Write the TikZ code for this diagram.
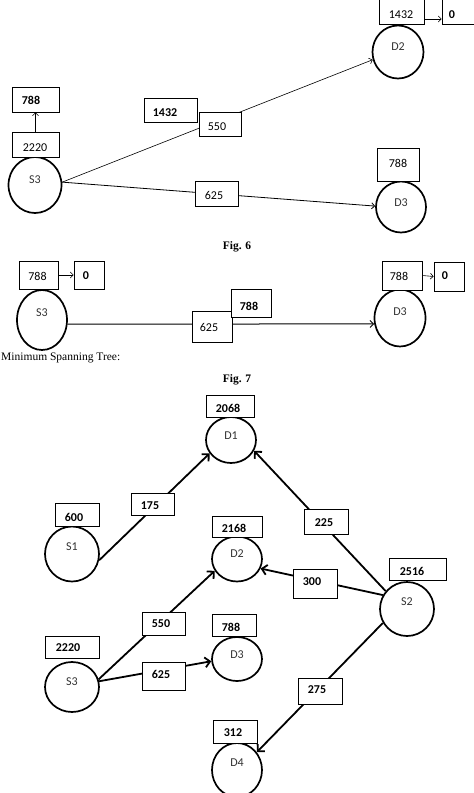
\documentclass[tikz,border=0pt]{standalone}
\usepackage{fontspec}
\setmainfont{Liberation Serif}
\newfontfamily\calib{Carlito}
\usetikzlibrary{shapes.geometric,arrows.meta}
\tikzset{
  box/.style={draw, line width=0.7pt, fill=white, inner sep=0pt},
  tbox/.style={box, line width=0.9pt},
  num/.style={font=\calib\fontsize{12}{14}\selectfont, inner sep=0pt},
  bnum/.style={font=\calib\bfseries\fontsize{12}{14}\selectfont, inner sep=0pt},
  circ/.style={draw, ellipse, line width=1.7pt, fill=white, inner sep=0pt},
  clab/.style={font=\calib\fontsize{12}{14}\selectfont, text=black!80, inner sep=0pt},
  thinarrow/.style={line width=0.6pt, -{Straight Barb[length=3pt,width=6pt]}},
  midarrow/.style={line width=1pt, -{Straight Barb[length=3.5pt,width=7pt]}},
  thickarrow/.style={line width=1.8pt, -{Straight Barb[length=5pt,width=10pt]}},
  figcap/.style={font=\bfseries\fontsize{11.5}{13}\selectfont, inner sep=0pt}
}
% #1 style, #2 name, #3 x1, #4 y1, #5 x2, #6 y2
\newcommand\mkbox[6][box]{\node[#1, minimum width={#5-#3}, minimum height={#6-#4}] (#2) at ({(#3+#5)/2},{(#4+#6)/2}) {};}
% #1 name, #2 cx, #3 cy, #4 w, #5 h, #6 text, #7 label shift
\newcommand\mkcirc[7]{\node[circ, minimum width=#4, minimum height=#5, label={[clab, yshift=#7pt]center:#6}] (#1) at (#2,#3) {};}
\begin{document}
\begin{tikzpicture}[x=1pt,y=-1pt]
\clip (0,0) rectangle (474,793);
\fill[white] (0,0) rectangle (474,793);

% ================= Fig. 6 =================
\mkcirc{S3a}{35}{185}{53}{56}{S3}{5}
\mkcirc{D2a}{398}{52}{51}{53}{D2}{5}
\mkcirc{D3a}{401}{207}{50}{51}{D3}{4}
\draw[thinarrow] (S3a.6) -- (D2a.197);
\draw[thinarrow, line width=0.8pt] (S3a.6) -- (D3a.178);

\mkbox{a1}{379}{-6}{424}{24}
\node[num] (a1t) at (401,15) {1432};
\mkbox{a0}{442}{-6}{490}{24}
\node[bnum] (a0t) at (452,15) {0};
\draw[thinarrow] ([yshift=-10pt]a1.east) -- ([yshift=-10pt]a0.west);

\mkbox{b788}{12}{87}{59}{112}
\node[bnum] (b788t) at (31,100) {788};
\mkbox{b2220}{12}{132}{59}{157}
\begin{scope}
  \clip (12,132) rectangle (59,150.5);
  \node[num] (b2220t) at (35,147.5) {2220};
\end{scope}
\draw[thinarrow] (b2220.north) -- (b788.south);

\mkbox[box, line width=0.9pt]{b1432}{144}{98}{197}{122}
\node[bnum] (b1432t) at (165,113) {1432};
\mkbox{b550}{199}{112}{241}{136}
\begin{scope}
  \clip (199,112) rectangle (241,130.5);
  \node[num] (b550t) at (217,127) {550};
\end{scope}
\mkbox{b625a}{195}{181}{238}{206}
\node[num] (b625at) at (214,195) {625};
\mkbox{b788c}{377}{148}{419}{181}
\node[num] (b788ct) at (398,163) {788};

\node[figcap] (fig6) at (237,247) {Fig. 6};

% ================= Fig. 7 =================
\mkcirc{S3b}{42}{320}{50}{60}{S3}{7}
\mkcirc{D3b}{400}{318}{51}{57}{D3}{6}
\draw[midarrow] (S3b.-9) -- (D3b.193);

\mkbox{c788}{19}{261}{58}{289}
\node[num] (c788t) at (37.5,276) {788};
\mkbox{c0}{74}{261}{104}{289}
\node[bnum] (c0t) at (86,276) {0};
\draw[thinarrow] (c788.east) -- (c0.west);

\mkbox{b625b}{192}{311}{232}{342}
\node[num] (b625bt) at (209,327) {625};
\mkbox{b788b}{231}{289}{271}{317}
\node[bnum] (b788bt) at (249,306) {788};

\mkbox{d788}{382}{261}{422}{290}
\node[num] (d788t) at (399,276) {788};
\mkbox{d0}{434}{262}{464}{291}
\node[bnum] (d0t) at (445,276) {0};
\draw[thinarrow] (d788.east) -- (d0.west);

\node[anchor=west, inner sep=0pt, font=\fontsize{11.5}{13}\selectfont] (mst) at (1,358) {Minimum Spanning Tree:};
\node[figcap] (fig7) at (237,380) {Fig. 7};

% ================= Tree =================
\mkcirc{D1}{231}{440}{50}{46}{D1}{4}
\mkcirc{S1}{72}{554}{54}{55}{S1}{7}
\mkcirc{D2}{237}{559}{50}{45}{D2}{5}
\mkcirc{S2}{407}{609}{54}{54}{S2}{7}
\mkcirc{D3}{237}{659}{50}{44}{D3}{4}
\mkcirc{S3}{72}{687}{54}{50}{S3}{5}
\mkcirc{D4}{237}{770}{50}{54}{D4}{7}

\draw[thickarrow] (S1.-13) -- (D1.212);
\draw[thickarrow] (S2.140) -- (D1.-25);
\draw[thickarrow] (S2.150) -- (D2.-22);
\draw[thickarrow] (S3.16) -- (D2.208);
\draw[thickarrow] (S3.12) -- (D3.185);
\draw[thickarrow] (S2.210) -- (D4.42);

\mkbox[tbox]{e2068}{206}{395}{254}{417}
\node[bnum] (e2068t) at (228,408) {2068};
\mkbox[tbox]{e175}{131}{493}{174}{515}
\node[bnum] (e175t) at (150,506) {175};
\mkbox[tbox]{e600}{55}{503}{99}{526}
\node[bnum] (e600t) at (74,517) {600};
\mkbox[tbox]{e2168}{212}{516}{262}{537}
\node[bnum] (e2168t) at (234,528) {2168};
\mkbox[tbox]{e225}{304}{509}{348}{534}
\node[bnum] (e225t) at (324,523) {225};
\mkbox[tbox]{e2516}{389}{558}{446}{580}
\node[bnum] (e2516t) at (412,571) {2516};
\mkbox[tbox]{e300}{293}{569}{337}{598}
\node[bnum] (e300t) at (312,582) {300};
\mkbox[tbox]{e550}{142}{612}{185}{635}
\node[bnum] (e550t) at (161,624) {550};
\mkbox[tbox]{e788}{212}{614}{256}{636}
\node[bnum] (e788t) at (231,627) {788};
\mkbox[tbox]{e2220}{45}{636}{99}{658}
\node[bnum] (e2220t) at (68,648) {2220};
\mkbox[tbox]{e625}{142}{662}{185}{690}
\node[bnum] (e625t) at (161,674) {625};
\mkbox[tbox]{e275}{298}{678}{342}{704}
\node[bnum] (e275t) at (317,690) {275};
\mkbox[tbox]{e312}{213}{720}{257}{743}
\node[bnum] (e312t) at (233,733) {312};
\end{tikzpicture}
\end{document}
